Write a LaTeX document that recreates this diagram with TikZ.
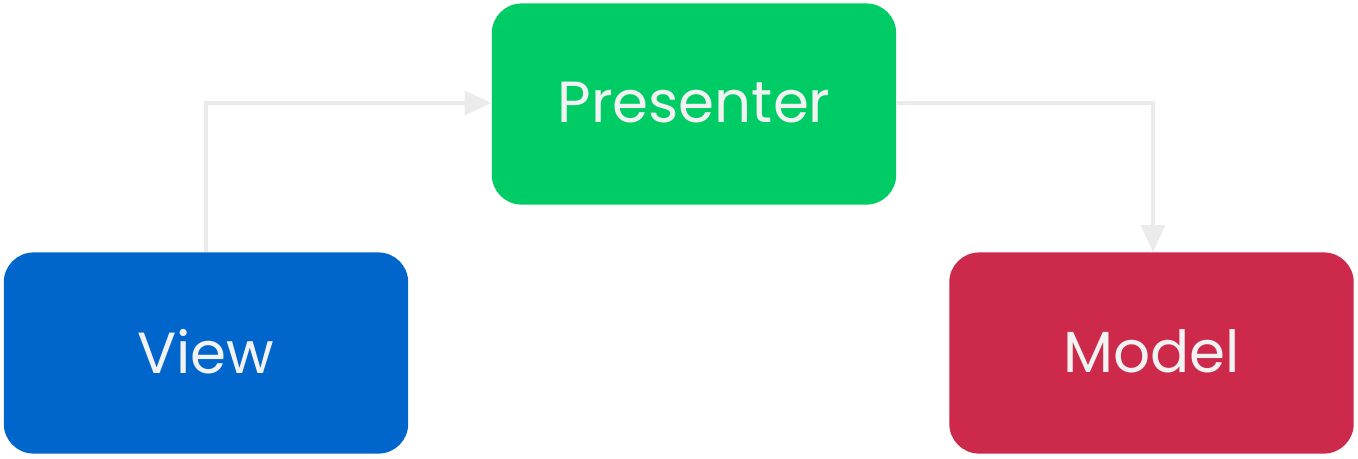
\documentclass[tikz,border=0pt]{standalone}
\usepackage{fontspec}
\setmainfont{Poppins}
\usetikzlibrary{arrows.meta}
\definecolor{viewblue}{HTML}{0066CC}
\definecolor{presgreen}{HTML}{00CC66}
\definecolor{modelred}{HTML}{CC294B}
\definecolor{txtgray}{HTML}{F2F2F2}
\definecolor{arrgray}{HTML}{EBEBEB}
\tikzset{
  box/.style={rectangle, rounded corners=17pt, minimum width=230.2pt, minimum height=114.5pt, inner sep=0pt, text=txtgray, font=\fontsize{33}{36}\selectfont},
  conn/.style={draw=arrgray, line width=2pt, -{Triangle[width=13.6pt,length=15.3pt]}}
}
\begin{document}
\begin{tikzpicture}[x=0.02cm, y=-0.02cm]
\useasboundingbox (0,0) rectangle (1358,458);
\node[box, fill=presgreen] (pres) at (694,104) {\raisebox{1.7pt}{Presenter}};
\node[box, fill=viewblue] (view) at (206,353) {\raisebox{1.7pt}{View}};
\node[box, fill=modelred] (model) at (1151.5,353) {\raisebox{1.7pt}{Model}};
\draw[conn] (view.north -| 206,0) |- (pres.west |- 0,103);
\draw[conn] (pres.east |- 0,103) -| (model.north -| 1153,0);
\end{tikzpicture}
\end{document}
